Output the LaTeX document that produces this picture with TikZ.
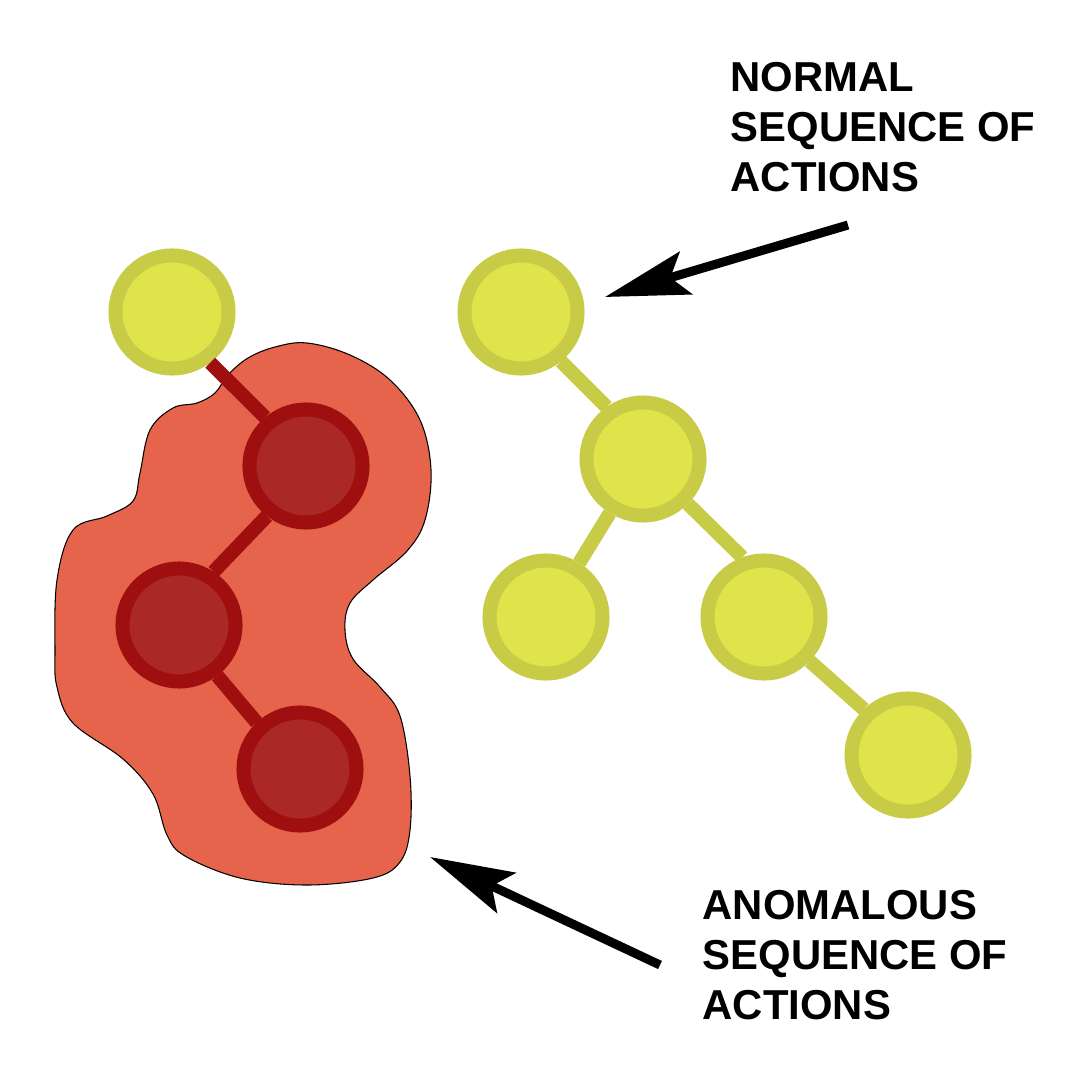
\documentclass[tikz,border=0pt]{standalone}
\usepackage{fontspec}
\setmainfont{Liberation Sans}
\usepackage{xcolor}
\usepackage{tikz}
\usetikzlibrary{arrows.meta,positioning}

\definecolor{okfill}{HTML}{DFE44B}
\definecolor{okline}{HTML}{C7CB45}
\definecolor{badfill}{HTML}{AA2828}
\definecolor{badline}{HTML}{A00F0F}
\definecolor{blobred}{HTML}{E6644C}

\begin{document}
\begin{tikzpicture}[x=0.01cm, y=-0.01cm,
  okstate/.style={circle, draw=okline, fill=okfill, line width=0.14cm, minimum size=1.13cm, inner sep=0pt},
  badstate/.style={circle, draw=badline, fill=badfill, line width=0.14cm, minimum size=1.13cm, inner sep=0pt},
  okedge/.style={draw=okline, line width=0.14cm},
  badedge/.style={draw=badline, line width=0.14cm},
  pointer/.style={-{Stealth[length=0.84cm, width=0.44cm, inset=0.16cm]}, line width=0.09cm},
  caption/.style={align=left, inner sep=0pt, font=\bfseries\fontsize{11.9}{14.2}\selectfont}]
  \useasboundingbox (0,0) rectangle (1080,1080);

  % Anomaly region
  \filldraw[fill=blobred, draw=black, line width=0.3pt] plot[smooth cycle, tension=0.6] coordinates {
    (215,393) (228,375) (248,358) (275,347) (307,343) (350,355) (390,380)
    (420,420) (431,470) (425,520) (407,551) (373,580) (350,603) (345,630)
    (353,659) (380,687) (400,716) (410,776) (410,830) (400,862) (373,878)
    (307,885) (240,878) (185,856) (167,835) (153,794) (123,759) (73,723)
    (57,687) (55,651) (57,580) (73,530) (107,516) (133,501) (140,473)
    (150,430) (173,408) (197,403)};

  % Anomalous sequence
  \node[okstate] (y1) at (172,312) {};
  \node[badstate] (r1) at (306,466) {};
  \node[badstate] (r2) at (179,625) {};
  \node[badstate] (r3) at (300,769) {};
  \draw[badedge] (y1.-53) -- (r1.130);
  \draw[badedge] (r1.-128) -- (r2.57);
  \draw[badedge] (r2.-53) -- (r3.133);

  % Normal sequence
  \node[okstate] (y2) at (521,312) {};
  \node[okstate] (y3) at (643,459) {};
  \node[okstate] (y4) at (546,617) {};
  \node[okstate] (y5) at (764,617) {};
  \node[okstate] (y6) at (908,755) {};
  \draw[okedge] (y2.-51) -- (y3.125);
  \draw[okedge] (y3) -- (y4);
  \draw[okedge] (y3.-45) -- (y5.110);
  \draw[okedge] (y5.-44) -- (y6.134);

  % Labels
  \node[caption, anchor=north west] (normaltxt) at (730,62) {NORMAL\\SEQUENCE OF\\ACTIONS};
  \node[caption, anchor=north west] (anomtxt) at (702,890) {ANOMALOUS\\SEQUENCE OF\\ACTIONS};

  % Pointers
  \coordinate (ntail) at (848,225);
  \coordinate (ntip) at (605,297);
  \coordinate (atail) at (660,965);
  \coordinate (atip) at (430,857);
  \draw[pointer] (ntail) -- (ntip);
  \draw[pointer] (atail) -- (atip);
\end{tikzpicture}
\end{document}
